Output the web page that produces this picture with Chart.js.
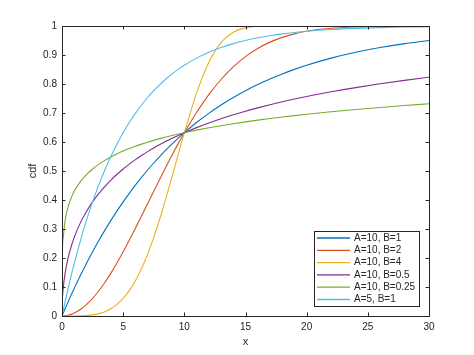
<!DOCTYPE html>
<html>
<head>
<meta charset="utf-8">
<script src="https://cdn.jsdelivr.net/npm/chart.js@4.4.1/dist/chart.umd.min.js"></script>
<style>
  html, body { margin: 0; padding: 0; background: #fff; }
  canvas { display: block; }
</style>
</head>
<body>
<canvas id="cdfChart" width="474" height="355"></canvas>
<script>
// x positions of the samples
const xValues = [0, 0.02, 0.1, 0.25, 0.5, 0.75, 1, 1.5, 2, 2.5, 3, 3.5, 4, 4.5, 5, 5.5, 6, 6.5, 7, 7.5,
  8, 8.5, 9, 9.5, 10, 11, 12, 13, 14, 15, 16, 17, 18, 19, 20, 22, 24, 26, 28, 30];

// cdf values
const cdfA10B1 = [0, 0.0020, 0.0100, 0.0247, 0.0488, 0.0723, 0.0952, 0.1393, 0.1813, 0.2212, 0.2592, 0.2953,
  0.3297, 0.3624, 0.3935, 0.4231, 0.4512, 0.4780, 0.5034, 0.5276, 0.5507, 0.5726, 0.5934, 0.6133, 0.6321,
  0.6671, 0.6988, 0.7275, 0.7534, 0.7769, 0.7981, 0.8173, 0.8347, 0.8504, 0.8647, 0.8892, 0.9093, 0.9257,
  0.9392, 0.9502];
const cdfA10B2 = [0, 0, 0.0001, 0.0006, 0.0025, 0.0056, 0.0100, 0.0222, 0.0392, 0.0606, 0.0861, 0.1153,
  0.1479, 0.1833, 0.2212, 0.2610, 0.3023, 0.3446, 0.3874, 0.4302, 0.4727, 0.5145, 0.5551, 0.5944, 0.6321,
  0.7018, 0.7631, 0.8155, 0.8591, 0.8946, 0.9227, 0.9444, 0.9608, 0.9729, 0.9817, 0.9921, 0.9968, 0.9988,
  0.9996, 0.9999];
const cdfA10B4 = [0, 0, 0, 0, 0, 0, 0.0001, 0.0005, 0.0016, 0.0039, 0.0081, 0.0149, 0.0253, 0.0402, 0.0606,
  0.0874, 0.1216, 0.1635, 0.2134, 0.2712, 0.3361, 0.4067, 0.4811, 0.5571, 0.6321, 0.7687, 0.8743, 0.9425,
  0.9785, 0.9937, 0.9986, 0.9998, 1, 1, 1, 1, 1, 1, 1, 1];
const cdfA10B05 = [0, 0.0437, 0.0952, 0.1462, 0.2004, 0.2396, 0.2711, 0.3211, 0.3606, 0.3935, 0.4217, 0.4465,
  0.4687, 0.4887, 0.5069, 0.5236, 0.5391, 0.5535, 0.5669, 0.5794, 0.5911, 0.6023, 0.6127, 0.6227, 0.6321,
  0.6496, 0.6656, 0.6803, 0.6937, 0.7062, 0.7177, 0.7285, 0.7386, 0.7480, 0.7569, 0.7731, 0.7876, 0.8006,
  0.8124, 0.8231];
const cdfA10B025 = [0, 0.1906, 0.2711, 0.3280, 0.3768, 0.4074, 0.4301, 0.4633, 0.4876, 0.5069, 0.5229, 0.5366,
  0.5486, 0.5591, 0.5687, 0.5773, 0.5852, 0.5926, 0.5994, 0.6057, 0.6116, 0.6172, 0.6224, 0.6274, 0.6321,
  0.6409, 0.6489, 0.6562, 0.6630, 0.6694, 0.6753, 0.6808, 0.6860, 0.6909, 0.6955, 0.7042, 0.7120, 0.7191,
  0.7257, 0.7318];
const cdfA5B1 = [0, 0.0040, 0.0198, 0.0488, 0.0952, 0.1393, 0.1813, 0.2592, 0.3297, 0.3935, 0.4512, 0.5034,
  0.5507, 0.5934, 0.6321, 0.6671, 0.6988, 0.7275, 0.7534, 0.7769, 0.7981, 0.8173, 0.8347, 0.8504, 0.8647,
  0.8892, 0.9093, 0.9257, 0.9392, 0.9502, 0.9592, 0.9666, 0.9727, 0.9776, 0.9817, 0.9877, 0.9918, 0.9945,
  0.9963, 0.9975];

const seriesLabels = ["A=10, B=1", "A=10, B=2", "A=10, B=4", "A=10, B=0.5", "A=10, B=0.25", "A=5, B=1"];
const seriesValues = [cdfA10B1, cdfA10B2, cdfA10B4, cdfA10B05, cdfA10B025, cdfA5B1];
const seriesColors = ["#0072BD", "#D95319", "#EDB120", "#7E2F8E", "#77AC30", "#4DBEEE"];

const axisColor = "#262626";
const fontFamily = "'Liberation Sans', Arial, Helvetica, sans-serif";

// MATLAB style box with inward ticks plus the legend inside the axes
const boxPlugin = {
  id: "matlabBox",
  afterDraw(chart) {
    const ctx = chart.ctx;
    const area = chart.chartArea;
    const xs = chart.scales.x;
    const ys = chart.scales.y;
    const tl = 3.5;
    ctx.save();
    ctx.strokeStyle = axisColor;
    ctx.lineWidth = 1;
    ctx.beginPath();
    xs.ticks.forEach((t) => {
      const px = Math.round(xs.getPixelForValue(t.value)) + 0.5;
      ctx.moveTo(px, area.bottom);
      ctx.lineTo(px, area.bottom - tl);
      ctx.moveTo(px, area.top);
      ctx.lineTo(px, area.top + tl);
    });
    ys.ticks.forEach((t) => {
      const py = Math.round(ys.getPixelForValue(t.value)) + 0.5;
      ctx.moveTo(area.left, py);
      ctx.lineTo(area.left + tl, py);
      ctx.moveTo(area.right, py);
      ctx.lineTo(area.right - tl, py);
    });
    ctx.stroke();
    ctx.strokeRect(Math.round(area.left) + 0.5, Math.round(area.top) + 0.5,
      Math.round(area.right - area.left), Math.round(area.bottom - area.top));

    // legend
    const lx = 314.5, ly = 231.5, lw = 105, lh = 75;
    ctx.fillStyle = "#fff";
    ctx.fillRect(lx, ly, lw, lh);
    ctx.strokeRect(lx, ly, lw, lh);
    ctx.font = "10px " + fontFamily;
    ctx.textBaseline = "middle";
    chart.data.datasets.forEach((ds, i) => {
      const y = 238 + i * 12.3;
      ctx.strokeStyle = ds.borderColor;
      ctx.lineWidth = 1.3;
      ctx.beginPath();
      ctx.moveTo(317, y);
      ctx.lineTo(350, y);
      ctx.stroke();
      ctx.fillStyle = axisColor;
      ctx.fillText(ds.label, 354, y);
    });
    ctx.restore();
  }
};

const datasets = seriesLabels.map((label, i) => ({
  label: label,
  data: xValues.map((x, j) => ({ x: x, y: seriesValues[i][j] })),
  borderColor: seriesColors[i],
  backgroundColor: seriesColors[i],
  borderWidth: 1.1,
  pointRadius: 0,
  cubicInterpolationMode: "monotone",
  fill: false,
  order: seriesLabels.length - i
}));

new Chart(document.getElementById("cdfChart"), {
  type: "line",
  data: { datasets: datasets },
  options: {
    responsive: false,
    animation: false,
    layout: { padding: { left: 0, right: 45, top: 26, bottom: 0 } },
    plugins: { legend: { display: false }, tooltip: { enabled: false } },
    scales: {
      x: {
        type: "linear",
        min: 0,
        max: 30,
        border: { display: false },
        grid: { display: false, drawTicks: false },
        ticks: { stepSize: 5, color: axisColor, padding: 5, font: { family: fontFamily, size: 10 } },
        title: { display: true, text: "x", color: axisColor, padding: { top: 0, bottom: 6 },
          font: { family: fontFamily, size: 11 } },
        afterFit: (scale) => { scale.height = 39; }
      },
      y: {
        type: "linear",
        min: 0,
        max: 1,
        border: { display: false },
        grid: { display: false, drawTicks: false },
        ticks: {
          stepSize: 0.1, color: axisColor, padding: 5, font: { family: fontFamily, size: 10 },
          callback: (v) => String(Number(v.toFixed(1)))
        },
        title: { display: true, text: "cdf", color: axisColor, padding: { top: 26, bottom: 0 },
          font: { family: fontFamily, size: 11 } },
        afterFit: (scale) => { scale.width = 62; }
      }
    }
  },
  plugins: [boxPlugin]
});
</script>
</body>
</html>
